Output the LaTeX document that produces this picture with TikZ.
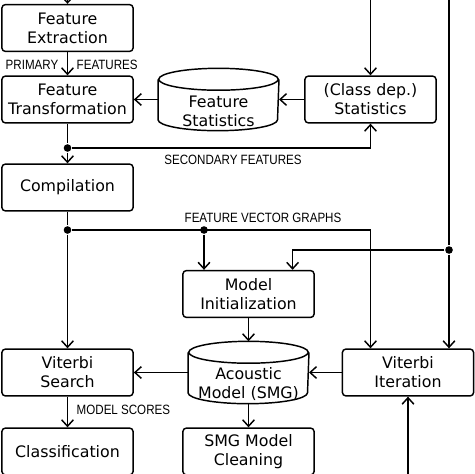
\documentclass[tikz,border=0pt]{standalone}
\usepackage{fontspec}
\usetikzlibrary{arrows.meta}
\newfontfamily\boxfont{DejaVu Sans}
\newfontfamily\labelfont[FakeStretch=0.86]{Liberation Sans}
\begin{document}
\begin{tikzpicture}[x=0.03cm, y=-0.03cm, line width=1.25pt,
		stage/.style={draw, rounded corners=3pt, minimum width=112pt, minimum height=40pt, align=center, inner sep=0pt, font=\boxfont\fontsize{13.5}{16.2}\selectfont},
		storebody/.style={minimum width=102pt, minimum height=52pt, inner sep=0pt},
		storetext/.style={align=center, inner sep=0pt, font=\boxfont\fontsize{13.5}{16.2}\selectfont},
		flow/.style={-{Straight Barb[length=5.5pt,width=10pt]}},
		tag/.style={inner sep=0pt, font=\labelfont\fontsize{11.5}{13}\selectfont},
		joint/.style={circle, fill, inner sep=0pt, minimum size=6.5pt}]
		\useasboundingbox (0,0) rectangle (474,474);
		% stages
		\node[stage] (fe) at (67.5, 28) {Feature\\Extraction};
		\node[stage] (ft) at (67.5, 99.5) {Feature\\Transformation};
		\node[stage] (comp) at (67.5, 187.5) {Compilation};
		\node[stage] (vs) at (67.5, 372.5) {Viterbi\\Search};
		\node[stage] (cls) at (67.5, 451.5) {Classification};
		\node[stage] (cds) at (370.5, 99.5) {(Class dep.)\\Statistics};
		\node[stage] (mi) at (248.5, 294) {Model\\Initialization};
		\node[stage] (smg) at (248.5, 451.5) {SMG Model\\Cleaning};
		\node[stage] (vi) at (408, 372.5) {Viterbi\\Iteration};
		% stores (drawn as cylinders)
		\node[storebody] (fs) at (218.5, 99.5) {};
		\node[storebody] (acm) at (248.5, 372.5) {};
		\foreach \s in {fs, acm}{
			\draw ([yshift=-9.35pt]\s.north) ellipse [x radius=51pt, y radius=9.35pt];
			\draw ([yshift=-9.35pt]\s.north west) -- ([yshift=9.35pt]\s.south west)
				arc [start angle=180, end angle=360, x radius=51pt, y radius=9.35pt]
				-- ([yshift=-9.35pt]\s.north east);
		}
		\node[storetext] (fstext) at (218.5, 111) {Feature\\Statistics};
		\node[storetext] (acmtext) at (248.5, 384) {Acoustic\\Model (SMG)};
		% junctions
		\node[joint] (j1) at (67.5, 148) {};
		\node[joint] (j2) at (67.5, 230) {};
		\node[joint] (j3) at (204, 230) {};
		\node[joint] (j4) at (449, 250) {};
		\coordinate (in1) at (67.5, 0);
		\coordinate (in2) at (370.5, 0);
		\coordinate (in3) at (449, 0);
		\coordinate (in4) at (408, 474);
		% connectors
		\draw[flow] (in1) -- (fe);
		\draw[flow] (fe) -- (ft);
		\draw (ft) -- (j1);
		\draw[flow] (j1) -- (comp);
		\draw[flow] (j1) -| (cds);
		\draw[flow] (in2) -- (cds);
		\draw[flow] (cds) -- (fs);
		\draw[flow] (fs) -- (ft);
		\draw (comp) -- (j2);
		\draw[flow] (j2) -- (vs);
		\draw[flow] (j2) -| (cds |- vi.north);
		\draw[flow] (j3) -- (j3 |- mi.north);
		\draw (in3) -- (j4);
		\draw[flow] (j4) -- (j4 |- vi.north);
		\draw[flow] (j4) -| ([xshift=-19pt]mi.north east);
		\draw[flow] (mi) -- (acm);
		\draw[flow] (vi) -- (acm);
		\draw[flow] (acm) -- (vs);
		\draw[flow] (acm) -- (smg);
		\draw[flow] (vs) -- (cls);
		\draw[flow] (in4) -- (vi);
		% labels
		\node[tag, anchor=east] (prim) at (59, 65) {PRIMARY};
		\node[tag, anchor=west] (feat) at (76, 65) {FEATURES};
		\node[tag] (secondary) at (233, 160) {SECONDARY FEATURES};
		\node[tag] (graphs) at (263, 218) {FEATURE VECTOR GRAPHS};
		\node[tag, anchor=west] (scores) at (76, 410) {MODEL SCORES};
	\end{tikzpicture}
\end{document}
